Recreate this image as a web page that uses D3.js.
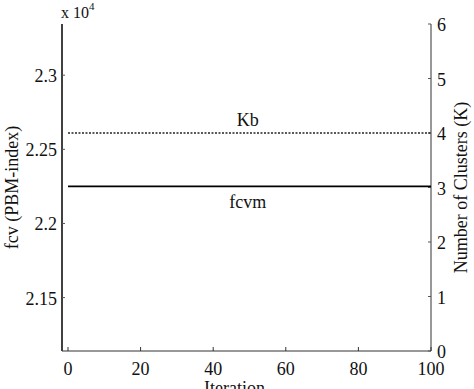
<!DOCTYPE html>
<html>
<head>
<meta charset="utf-8">
<script src="https://cdn.jsdelivr.net/npm/d3@7"></script>
<style>
  body { margin: 0; background: #fff; }
</style>
</head>
<body>
<svg id="chart" width="474" height="389"></svg>
<script>
// data
const iterations = [0, 100];
const fcvm = [22250, 22250];      // left axis, fcv (PBM-index)
const kb = [4, 4];                // right axis, number of clusters
const xTicks = [0, 20, 40, 60, 80, 100];
const leftTicks = [21500, 22000, 22500, 23000];
const leftTickLabels = ["2.15", "2.2", "2.25", "2.3"];
const rightTicks = [0, 1, 2, 3, 4, 5, 6];

const svg = d3.select("#chart")
  .attr("font-family", "Liberation Serif")
  .attr("fill", "#111");
const mLeft = 62, mRight = 431, mTop = 24, mBottom = 351;

const x = d3.scaleLinear().domain([-1.65, 100]).range([mLeft, mRight]);
const yL = d3.scaleLinear().domain([21140, 23345]).range([mBottom, mTop]);
const yR = d3.scaleLinear().domain([0, 6]).range([mBottom, mTop]);

// axes lines
svg.append("line").attr("x1", mLeft).attr("x2", mLeft).attr("y1", mTop).attr("y2", mBottom)
  .attr("stroke", "#111").attr("stroke-width", 1.6);
svg.append("line").attr("x1", mRight).attr("x2", mRight).attr("y1", mTop).attr("y2", mBottom)
  .attr("stroke", "#333").attr("stroke-width", 1);
svg.append("line").attr("x1", mLeft).attr("x2", mRight).attr("y1", mBottom).attr("y2", mBottom)
  .attr("stroke", "#333").attr("stroke-width", 1.2);

// bottom ticks
const gx = svg.append("g");
gx.selectAll("line").data(xTicks).enter().append("line")
  .attr("x1", d => x(d)).attr("x2", d => x(d))
  .attr("y1", mBottom).attr("y2", mBottom - 4)
  .attr("stroke", "#333");
gx.selectAll("text").data(xTicks).enter().append("text")
  .attr("x", d => x(d)).attr("y", mBottom + 24)
  .attr("text-anchor", "middle").attr("font-size", 18)
  .text(d => d);

// left ticks
const gl = svg.append("g");
gl.selectAll("line").data(leftTicks).enter().append("line")
  .attr("x1", mLeft).attr("x2", mLeft + 3)
  .attr("y1", d => yL(d)).attr("y2", d => yL(d))
  .attr("stroke", "#555");
gl.selectAll("text").data(leftTicks).enter().append("text")
  .attr("x", mLeft - 5).attr("y", d => yL(d) + 7)
  .attr("text-anchor", "end").attr("font-size", 18)
  .text((d, i) => leftTickLabels[i]);
svg.append("text").attr("x", mLeft - 1).attr("y", 18).attr("font-size", 16)
  .text("x 10").append("tspan").attr("dy", -8).attr("font-size", 11).text("4");

// right ticks
const gr = svg.append("g");
gr.selectAll("line").data(rightTicks).enter().append("line")
  .attr("x1", mRight - 3).attr("x2", mRight)
  .attr("y1", d => yR(d)).attr("y2", d => yR(d))
  .attr("stroke", "#555");
gr.selectAll("text").data(rightTicks).enter().append("text")
  .attr("x", mRight + 6).attr("y", d => yR(d) + 7)
  .attr("font-size", 18)
  .text(d => d);

// series
const lineL = d3.line().x((d, i) => x(iterations[i])).y(d => yL(d));
const lineR = d3.line().x((d, i) => x(iterations[i])).y(d => yR(d));
svg.append("path").attr("d", lineL(fcvm)).attr("fill", "none")
  .attr("stroke", "#000").attr("stroke-width", 1.8);
svg.append("path").attr("d", lineR(kb)).attr("fill", "none")
  .attr("stroke", "#222").attr("stroke-width", 1.3).attr("stroke-dasharray", "2,1.5");

// line labels
svg.append("text").attr("x", x(49.5)).attr("y", yR(kb[0]) - 7)
  .attr("text-anchor", "middle").attr("font-size", 18).text("Kb");
svg.append("text").attr("x", x(49.5)).attr("y", yL(fcvm[0]) + 22)
  .attr("text-anchor", "middle").attr("font-size", 18).text("fcvm");

// axis titles
svg.append("text").attr("transform", `translate(18, ${(mTop + mBottom) / 2}) rotate(-90)`)
  .attr("text-anchor", "middle").attr("font-size", 18).text("fcv (PBM-index)");
svg.append("text").attr("transform", `translate(467, ${(mTop + mBottom) / 2}) rotate(-90)`)
  .attr("text-anchor", "middle").attr("font-size", 18).text("Number of Clusters (K)");
svg.append("text").attr("x", (mLeft + mRight) / 2 - 12).attr("y", 394)
  .attr("text-anchor", "middle").attr("font-size", 18).text("Iteration");
</script>
</body>
</html>
